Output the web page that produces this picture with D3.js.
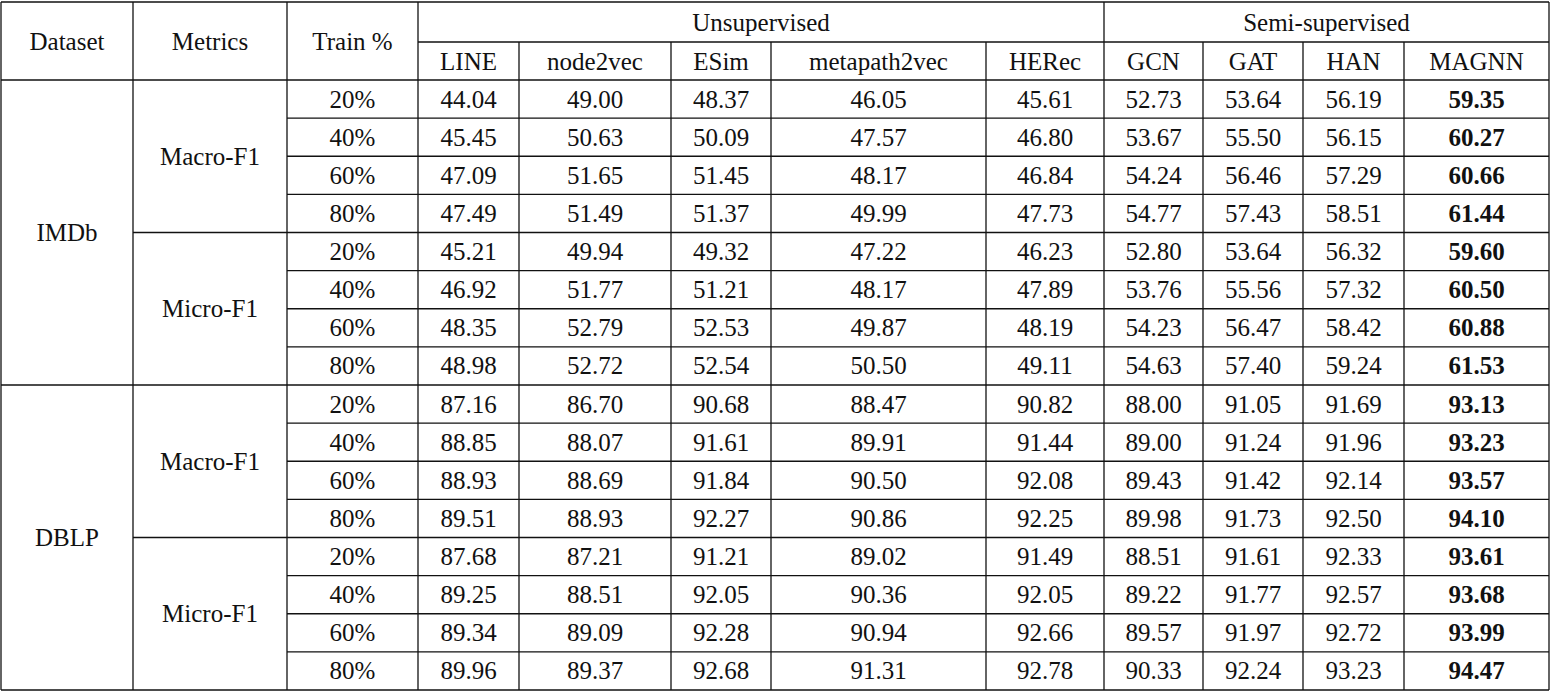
<!DOCTYPE html>
<html><head><meta charset="utf-8">
<script src="https://cdn.jsdelivr.net/npm/d3@7"></script>
<style>body{margin:0;background:#fff}text{font-family:"Liberation Serif","DejaVu Serif",serif;fill:#111}</style>
</head><body><svg id="c" width="1551" height="696"></svg>
<script>
const methods = ["LINE","node2vec","ESim","metapath2vec","HERec","GCN","GAT","HAN","MAGNN"];
const groups = [{name:"Unsupervised",n:5},{name:"Semi-supervised",n:4}];
const datasets = ["IMDb","DBLP"];
const metrics = ["Macro-F1","Micro-F1"];
const trains = ["20%","40%","60%","80%"];
const values = [
[44.04,49.00,48.37,46.05,45.61,52.73,53.64,56.19,59.35],
[45.45,50.63,50.09,47.57,46.80,53.67,55.50,56.15,60.27],
[47.09,51.65,51.45,48.17,46.84,54.24,56.46,57.29,60.66],
[47.49,51.49,51.37,49.99,47.73,54.77,57.43,58.51,61.44],
[45.21,49.94,49.32,47.22,46.23,52.80,53.64,56.32,59.60],
[46.92,51.77,51.21,48.17,47.89,53.76,55.56,57.32,60.50],
[48.35,52.79,52.53,49.87,48.19,54.23,56.47,58.42,60.88],
[48.98,52.72,52.54,50.50,49.11,54.63,57.40,59.24,61.53],
[87.16,86.70,90.68,88.47,90.82,88.00,91.05,91.69,93.13],
[88.85,88.07,91.61,89.91,91.44,89.00,91.24,91.96,93.23],
[88.93,88.69,91.84,90.50,92.08,89.43,91.42,92.14,93.57],
[89.51,88.93,92.27,90.86,92.25,89.98,91.73,92.50,94.10],
[87.68,87.21,91.21,89.02,91.49,88.51,91.61,92.33,93.61],
[89.25,88.51,92.05,90.36,92.05,89.22,91.77,92.57,93.68],
[89.34,89.09,92.28,90.94,92.66,89.57,91.97,92.72,93.99],
[89.96,89.37,92.68,91.31,92.78,90.33,92.24,93.23,94.47]];

const colEdges = [1,133,287,418,519,671,771,986,1104,1203,1303,1404,1549];
const yTop=2, yMid=42, yHdr=80, yBot=690;
const svg = d3.select("#c");
const y = d3.scaleBand().domain(d3.range(values.length)).range([yHdr,yBot]);
const fs = 25;
const g = svg.append("g");
const line=(x1,y1,x2,y2)=>g.append("line").attr("x1",x1).attr("y1",y1).attr("x2",x2).attr("y2",y2).attr("stroke","#111").attr("stroke-width",1.3);
const txt=(x,yy,s,bold)=>g.append("text").attr("x",x).attr("y",yy).attr("text-anchor","middle").attr("dominant-baseline","central").attr("font-size",fs).attr("font-weight",bold?"bold":null).text(s);
const cx=i=>(colEdges[i]+colEdges[i+1])/2;

txt(cx(0),(yTop+yHdr)/2,"Dataset");
txt(cx(1),(yTop+yHdr)/2,"Metrics");
txt(cx(2),(yTop+yHdr)/2,"Train %");
let ci=3;
groups.forEach(gr=>{txt((colEdges[ci]+colEdges[ci+gr.n])/2,(yTop+yMid)/2,gr.name);ci+=gr.n;});
methods.forEach((m,i)=>txt(cx(3+i),(yMid+yHdr)/2,m));

values.forEach((row,r)=>{
  const yc=y(r)+y.bandwidth()/2;
  txt(cx(2),yc,trains[r%4]);
  row.forEach((v,j)=>txt(cx(3+j),yc,v.toFixed(2),j===row.length-1));
});
metrics.concat(metrics).forEach((m,k)=>txt(cx(1),y(k*4)+2*y.bandwidth(),m));
datasets.forEach((d,k)=>txt(cx(0),y(k*8)+4*y.bandwidth(),d));

line(colEdges[0],yTop,colEdges[12],yTop);
line(colEdges[0],yBot,colEdges[12],yBot);
line(colEdges[0],yHdr,colEdges[12],yHdr);
line(colEdges[3],yMid,colEdges[12],yMid);
colEdges.forEach((x,i)=>{
  if(i<=3||i===8||i===12) line(x,yTop,x,yBot); else line(x,yMid,x,yBot);
});
for(let r=1;r<values.length;r++){
  const yy=y(r);
  const x0 = r%8===0?colEdges[0]:(r%4===0?colEdges[1]:colEdges[2]);
  line(x0,yy,colEdges[12],yy);
}
</script></body></html>
